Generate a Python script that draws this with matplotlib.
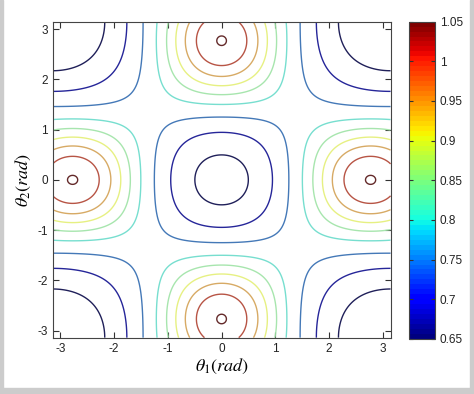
import numpy as np
import matplotlib.pyplot as plt
from matplotlib.patches import Rectangle
from matplotlib import cm, colors

plt.rcParams['font.family'] = ['Liberation Sans', 'DejaVu Sans']
plt.rcParams['mathtext.fontset'] = 'stix'
plt.rcParams['axes.unicode_minus'] = False

# values
saddle_pos = 1.36     # white cross lines at |theta| ~ 1.36 rad
saddle_val = 0.775
peak_pos = 2.77       # maxima at (+-2.77, 0) and (0, +-2.77)
peak_val = 1.052
center_min = 0.63     # minimum at (0, 0)
corner_min = 0.60     # minimum at the corners
# profile shape exponents (center, peak along axis, peak across, corner)
shape_exp = [0.85, 1.3, 1.35, 0.8]

levels = [0.65, 0.70, 0.75, 0.80, 0.85, 0.90, 0.95, 1.00, 1.05]
cbar_ticks = [0.65, 0.70, 0.75, 0.80, 0.85, 0.90, 0.95, 1.00, 1.05]
cbar_labels = ['0.65', '0.7', '0.75', '0.8', '0.85', '0.9', '0.95', '1', '1.05']
axis_ticks = [-3, -2, -1, 0, 1, 2, 3]

b = saddle_pos
hp = np.pi / 2


def surface(t1, t2):
    a1, a2 = np.abs(t1), np.abs(t2)
    pc = lambda x: np.cos(hp * np.minimum(x, b) / b) ** shape_exp[0]
    pp = lambda x: np.abs(np.sin(hp * (np.maximum(x, b) - b) / (peak_pos - b))) ** shape_exp[1]
    pe = lambda x: np.cos(hp * np.minimum(x, b) / b) ** shape_exp[2]
    pk = lambda x: np.cos(hp * (np.pi - np.maximum(x, b)) / (np.pi - b)) ** shape_exp[3]
    in1, in2 = a1 < b, a2 < b
    z = np.full(a1.shape, saddle_val)
    z = np.where(in1 & in2, saddle_val - (saddle_val - center_min) * pc(a1) * pc(a2), z)
    z = np.where(~in1 & in2, saddle_val + (peak_val - saddle_val) * pp(a1) * pe(a2), z)
    z = np.where(in1 & ~in2, saddle_val + (peak_val - saddle_val) * pe(a1) * pp(a2), z)
    z = np.where(~in1 & ~in2, saddle_val - (saddle_val - corner_min) * pk(a1) * pk(a2), z)
    return z


th = np.linspace(-np.pi, np.pi, 601)
T1, T2 = np.meshgrid(th, th)
Z = surface(T1, T2)

cmap = plt.get_cmap('jet', 64)
norm = colors.Normalize(vmin=0.65, vmax=1.05)


def washed(c, k=0.5):
    c = np.array(c[:3])
    g = c @ [0.3, 0.59, 0.11]
    return tuple((1 - k) * c + k * g)


line_colors = [washed(cmap(norm(l))) for l in levels]

fig = plt.figure(figsize=(4.74, 3.94), dpi=100)
ax = fig.add_axes([0.111, 0.143, 0.713, 0.801])
ax.contour(T1, T2, Z, levels=levels, colors=line_colors, linewidths=1.0, alpha=0.9)
ax.set_xlim(-np.pi, np.pi)
ax.set_ylim(-np.pi, np.pi)
ax.set_xticks(axis_ticks)
ax.set_yticks(axis_ticks)
ax.tick_params(direction='in', top=True, right=True, length=4, labelsize=8.5,
               colors='#333333', labelcolor='#222222')
for s in ax.spines.values():
    s.set_color('#444444')
ax.set_xlabel(r'$\theta_1(rad)$', fontsize=13, labelpad=2)
ax.set_ylabel(r'$\theta_2(rad)$', fontsize=13, labelpad=3)

cax = fig.add_axes([0.8635, 0.14, 0.054, 0.805])
cb = fig.colorbar(cm.ScalarMappable(norm=norm, cmap=cmap), cax=cax, ticks=cbar_ticks)
cb.ax.set_yticklabels(cbar_labels)
cb.ax.tick_params(direction='in', length=3, labelsize=8.5, colors='#333333',
                  labelcolor='#222222', left=True, right=True)
cb.outline.set_edgecolor('#444444')

# grey frame of the original image
for r in [(0, 0, 0.006, 1), (0.991, 0, 0.009, 1), (0, 0, 1, 0.015)]:
    fig.patches.append(Rectangle(r[:2], r[2], r[3], transform=fig.transFigure,
                                 color='#cccccc', zorder=-1))

fig.savefig('out.png', dpi=100)
